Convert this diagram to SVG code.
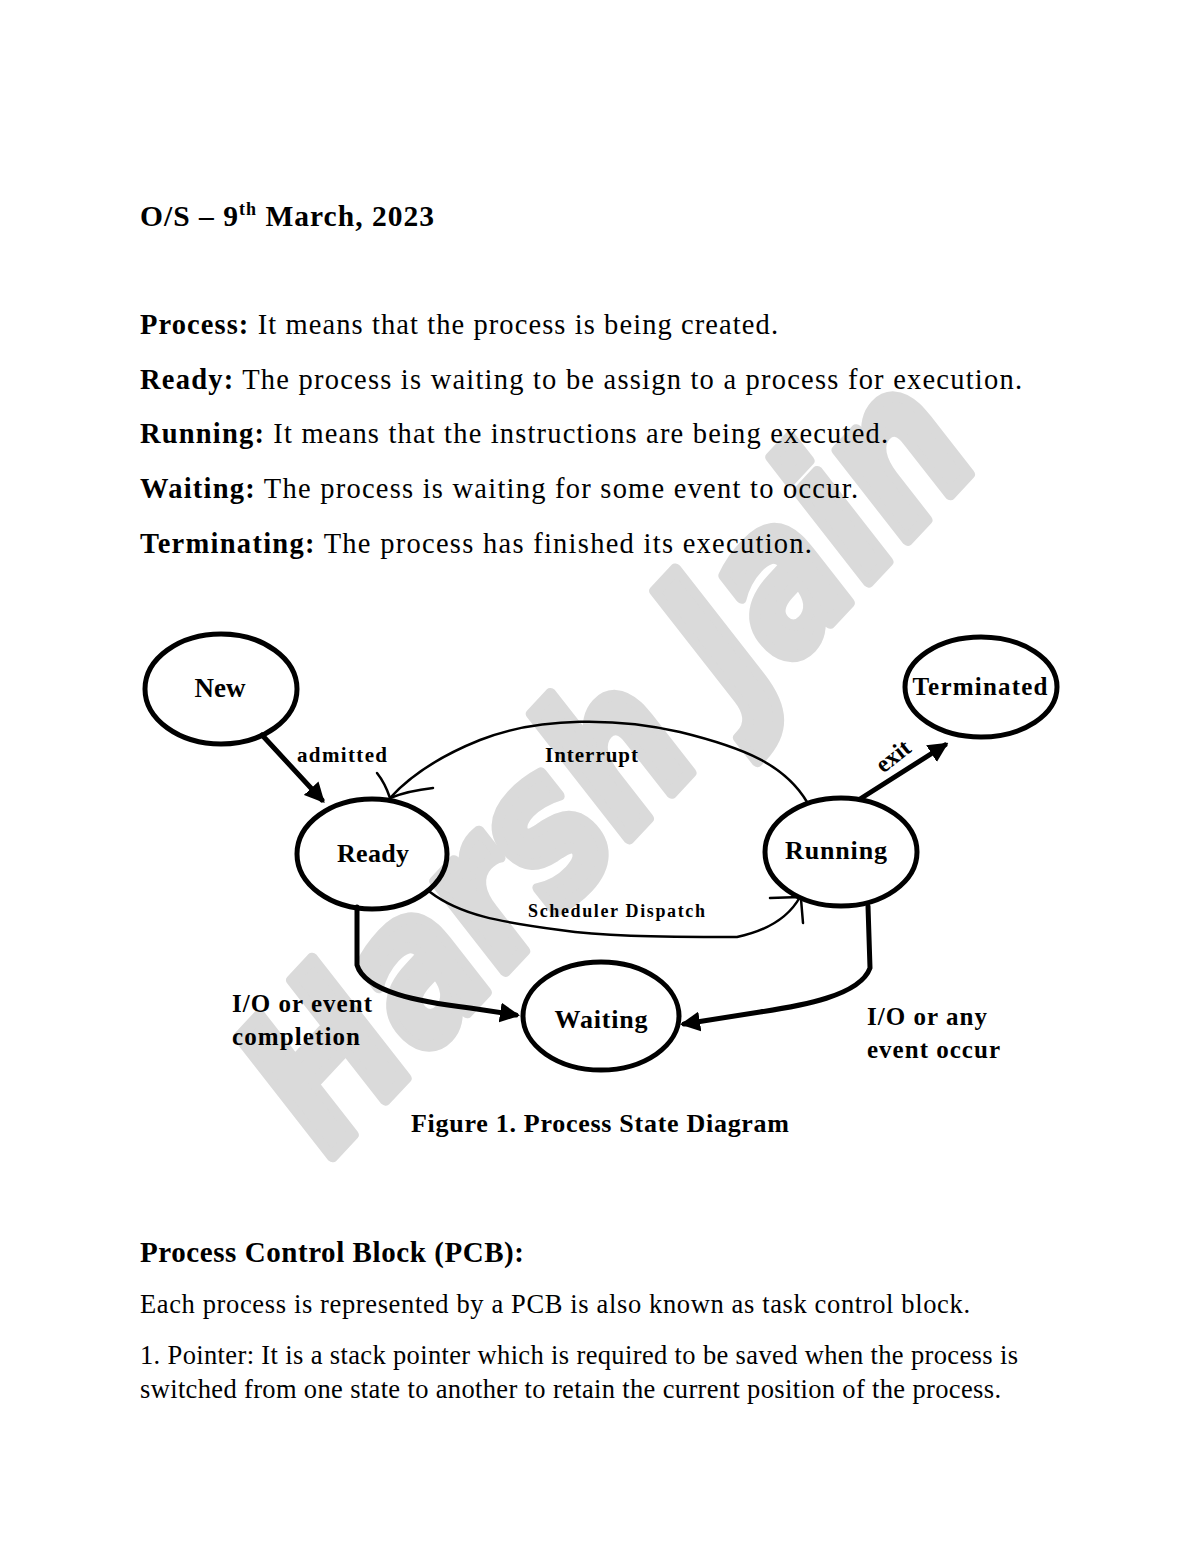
<svg xmlns="http://www.w3.org/2000/svg" width="1200" height="1553" viewBox="0 0 1200 1553">
<style>
  .bg{fill:#ffffff}
  .wm{font-family:"DejaVu Sans","Liberation Sans",sans-serif;font-weight:bold;font-style:oblique;fill:#dadada;stroke:#dadada;stroke-width:12;stroke-linejoin:round}
  .t{font-family:"Liberation Serif","Times New Roman",serif;fill:#000}
  .b{font-weight:bold}
  .body{font-size:28.5px}
  .node ellipse{fill:none;stroke:#000;stroke-width:5}
  .nl{font-family:"Liberation Serif","Times New Roman",serif;font-weight:bold;fill:#000;text-anchor:middle}
  .thick{fill:none;stroke:#000;stroke-width:5;stroke-linecap:round;stroke-linejoin:round}
  .thin{fill:none;stroke:#000;stroke-width:2.5;stroke-linecap:round;stroke-linejoin:round}
  .el{font-family:"Liberation Serif","Times New Roman",serif;font-weight:bold;fill:#000}
</style>
<defs>
  <marker id="ah" viewBox="0 0 10 10" refX="8" refY="5" markerWidth="4" markerHeight="4" orient="auto" markerUnits="strokeWidth">
    <path d="M0,0 L10,5 L0,10 Z" fill="#000"/>
  </marker>
</defs>
<rect class="bg" x="0" y="0" width="1200" height="1553"/>

<!-- watermark -->
<text class="wm" x="605" y="760" font-size="205" text-anchor="middle" dominant-baseline="central" textLength="960" lengthAdjust="spacingAndGlyphs" transform="rotate(-47 605 760)">Harsh Jain</text>

<!-- header text -->
<g id="header">
  <text class="t b" x="140" y="226" font-size="29.5" textLength="294" lengthAdjust="spacing">O/S – 9<tspan font-size="18" dy="-11">th</tspan><tspan dy="11"> March, 2023</tspan></text>
  <text class="t body" x="140" y="334" textLength="638" lengthAdjust="spacing"><tspan class="b">Process:</tspan> It means that the process is being created.</text>
  <text class="t body" x="140" y="389" textLength="882" lengthAdjust="spacing"><tspan class="b">Ready:</tspan> The process is waiting to be assign to a process for execution.</text>
  <text class="t body" x="140" y="443" textLength="748" lengthAdjust="spacing"><tspan class="b">Running:</tspan> It means that the instructions are being executed.</text>
  <text class="t body" x="140" y="498" textLength="718" lengthAdjust="spacing"><tspan class="b">Waiting:</tspan> The process is waiting for some event to occur.</text>
  <text class="t body" x="140" y="553" textLength="672" lengthAdjust="spacing"><tspan class="b">Terminating:</tspan> The process has finished its execution.</text>
</g>

<!-- connectors -->
<g id="connectors">
  <path class="thick" d="M262,735 L322,800" marker-end="url(#ah)"/>
  <path class="thick" d="M860,799 L945,745" marker-end="url(#ah)"/>
  <path class="thick" d="M357,907 L357,965 C365,992 420,1002 470,1008 L516,1015" marker-end="url(#ah)"/>
  <path class="thick" d="M868,906 L870,968 C860,996 800,1006 760,1012 L684,1024" marker-end="url(#ah)"/>
  <path class="thin" d="M807,802 C785,765 745,748 680,732 C620,718 540,716 480,740 C440,756 410,776 390,798"/>
  <path class="thin" d="M377,773 C385,783 388,792 390,798 M433,788 C415,790 400,794 390,798"/>
  <path class="thin" d="M430,892 C460,915 500,922 560,930 C600,936 650,937 737,937 C770,930 790,915 800,897"/>
  <path class="thin" d="M770,898 L800,897 M803,923 L801,899"/>
  <text class="el" x="297" y="762" font-size="21" textLength="90" lengthAdjust="spacing">admitted</text>
  <text class="el" x="545" y="762" font-size="21" textLength="93" lengthAdjust="spacing">Interrupt</text>
  <text class="el" x="528" y="917" font-size="18" textLength="177" lengthAdjust="spacing">Scheduler Dispatch</text>
  <text class="el" x="893" y="764" font-size="24" text-anchor="middle" transform="rotate(-38 893 756)">exit</text>
  <text class="el" x="232" y="1012" font-size="25" textLength="140" lengthAdjust="spacing">I/O or event</text>
  <text class="el" x="232" y="1045" font-size="25" textLength="128" lengthAdjust="spacing">completion</text>
  <text class="el" x="867" y="1025" font-size="25" textLength="120" lengthAdjust="spacing">I/O or any</text>
  <text class="el" x="867" y="1058" font-size="25" textLength="133" lengthAdjust="spacing">event occur</text>
</g>

<!-- nodes -->
<g id="node-new" class="node">
  <ellipse cx="221" cy="689" rx="76" ry="55"/>
  <text class="nl" x="220" y="697" font-size="27">New</text>
</g>
<g id="node-ready" class="node">
  <ellipse cx="372" cy="854" rx="75" ry="55"/>
  <text class="nl" x="373" y="862" font-size="26" textLength="72" lengthAdjust="spacing">Ready</text>
</g>
<g id="node-running" class="node">
  <ellipse cx="841" cy="852" rx="76" ry="54"/>
  <text class="nl" x="836" y="859" font-size="26" textLength="102" lengthAdjust="spacing">Running</text>
</g>
<g id="node-terminated" class="node">
  <ellipse cx="981" cy="687" rx="76" ry="50"/>
  <text class="nl" x="980" y="695" font-size="25" textLength="135" lengthAdjust="spacing">Terminated</text>
</g>
<g id="node-waiting" class="node">
  <ellipse cx="601" cy="1016" rx="78" ry="54"/>
  <text class="nl" x="601" y="1028" font-size="26" textLength="93" lengthAdjust="spacing">Waiting</text>
</g>

<!-- footer text -->
<g id="footer">
  <text class="t b" x="600" y="1132" font-size="26" text-anchor="middle" textLength="378" lengthAdjust="spacing">Figure 1. Process State Diagram</text>
  <text class="t b" x="140" y="1262" font-size="29" textLength="384" lengthAdjust="spacing">Process Control Block (PCB):</text>
  <text class="t" x="140" y="1313" font-size="26.5" textLength="830" lengthAdjust="spacing">Each process is represented by a PCB is also known as task control block.</text>
  <text class="t" x="140" y="1364" font-size="26.5" textLength="878" lengthAdjust="spacing">1. Pointer: It is a stack pointer which is required to be saved when the process is</text>
  <text class="t" x="140" y="1398" font-size="26.5" textLength="861" lengthAdjust="spacing">switched from one state to another to retain the current position of the process.</text>
</g>
</svg>
